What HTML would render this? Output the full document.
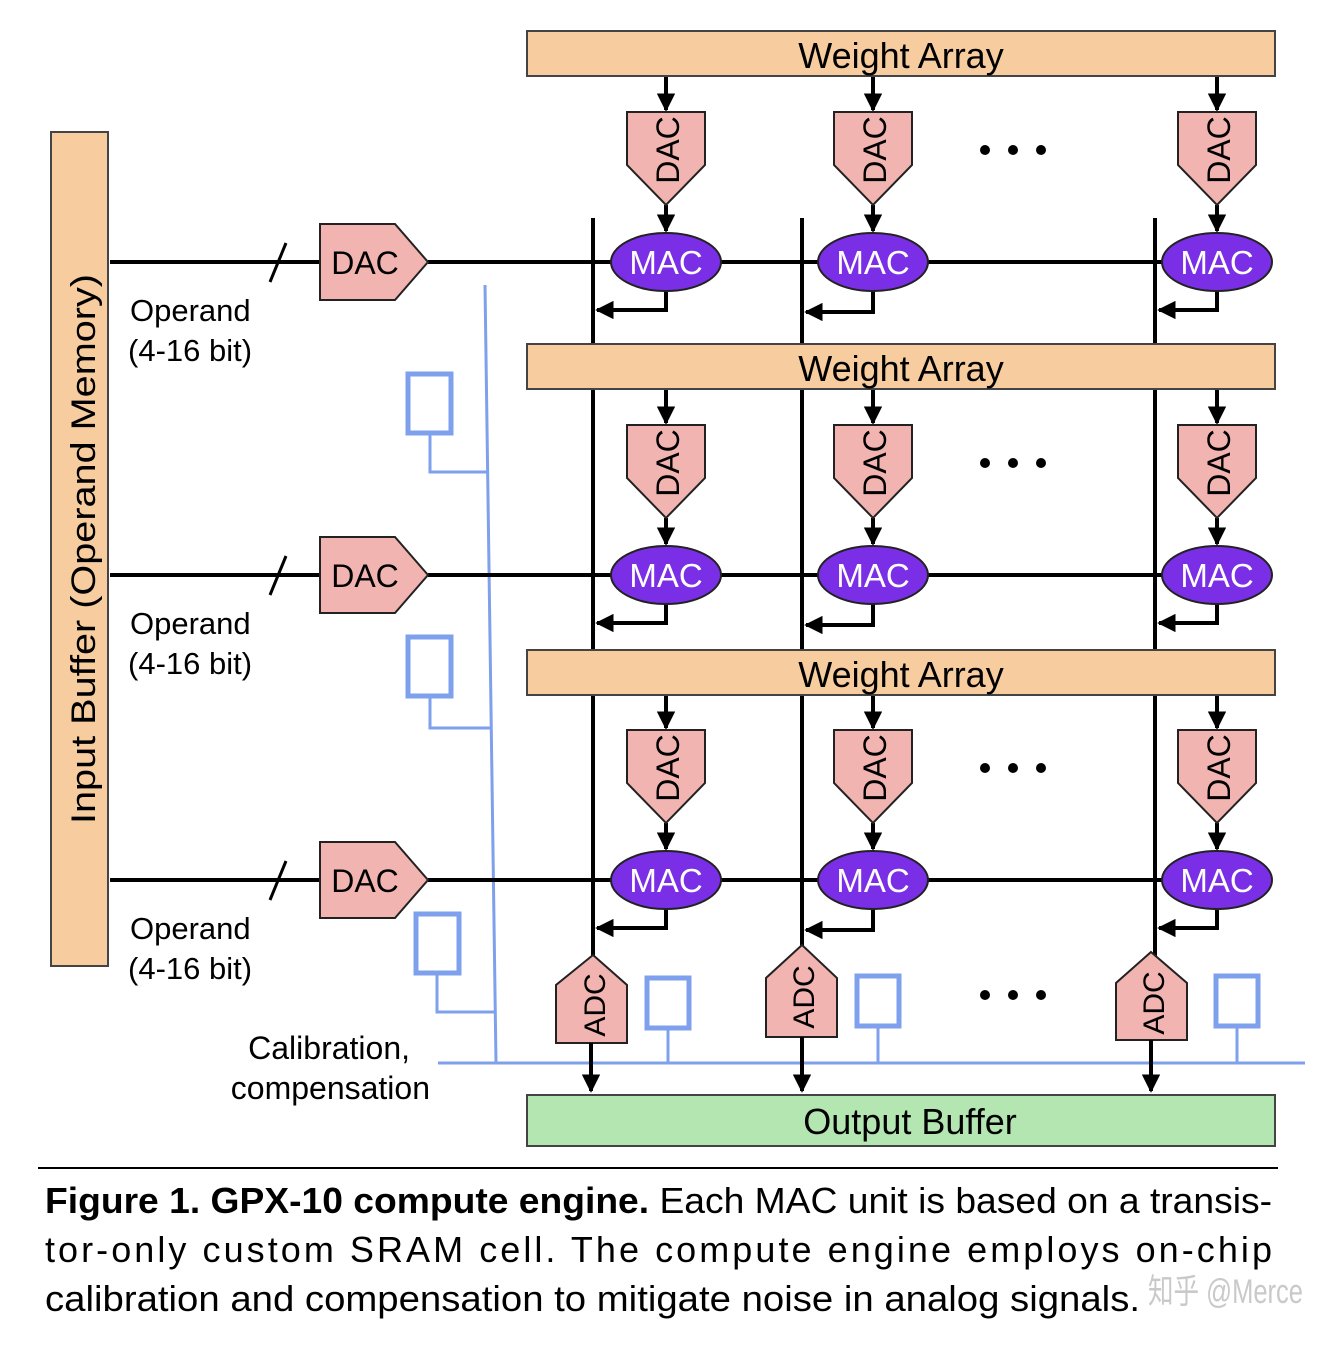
<!DOCTYPE html>
<html><head><meta charset="utf-8"><style>
html,body{margin:0;padding:0;background:#fff;}
svg{display:block;font-family:"Liberation Sans",sans-serif;}
</style></head><body>
<svg width="1338" height="1346" viewBox="0 0 1338 1346" xmlns="http://www.w3.org/2000/svg">
<defs>
<marker id="ah" viewBox="0 0 10 10" refX="9" refY="5" markerWidth="4.6" markerHeight="4.6" orient="auto" markerUnits="strokeWidth"><path d="M0,0 L10,5 L0,10 z" fill="#000"/></marker>
<g id="vdac"><polygon points="627,112 705,112 705,165 666,205 627,165" fill="#f2b4b0" stroke="#222" stroke-width="2"/><text transform="translate(679,150) rotate(-90)" font-size="32" text-anchor="middle">DAC</text></g>
<g id="hdac"><polygon points="320,224 395,224 428,262 395,300 320,300" fill="#f2b4b0" stroke="#222" stroke-width="2"/><text x="365" y="274" font-size="32" text-anchor="middle">DAC</text></g>
</defs>
<rect x="51" y="132" width="57" height="834" fill="#f7cc9e" stroke="#444" stroke-width="2"/>
<text transform="translate(95,549) rotate(-90)" font-size="34" text-anchor="middle" textLength="550" lengthAdjust="spacingAndGlyphs">Input Buffer  (Operand Memory)</text>

<g stroke="#7fa0ec" stroke-width="3" fill="none">
<line x1="485" y1="285" x2="496" y2="1063"/>
<line x1="438" y1="1063" x2="1305" y2="1063"/>
<rect x="408" y="374" width="43" height="59" stroke-width="5"/><polyline points="430,433 430,472 488,472"/>
<rect x="408" y="637" width="43" height="59" stroke-width="5"/><polyline points="430,696 430,728 492,728"/>
<rect x="416" y="914" width="43" height="59" stroke-width="5"/><polyline points="437,973 437,1012 495,1012"/>
<rect x="647" y="978" width="42" height="50" stroke-width="5"/><line x1="668" y1="1028" x2="668" y2="1063"/>
<rect x="857" y="976" width="42" height="50" stroke-width="5"/><line x1="878" y1="1026" x2="878" y2="1063"/>
<rect x="1216" y="976" width="42" height="50" stroke-width="5"/><line x1="1237" y1="1026" x2="1237" y2="1063"/>
</g>

<g stroke="#000" stroke-width="4">
<line x1="593" y1="218" x2="593" y2="960"/>
<line x1="802" y1="218" x2="802" y2="950"/>
<line x1="1155" y1="218" x2="1155" y2="960"/>
</g>

<g id="row1">
<g stroke="#000" stroke-width="4" fill="none">
<line x1="110" y1="262" x2="320" y2="262"/>
<line x1="428" y1="262" x2="1165" y2="262"/>
<line x1="270" y1="282" x2="286" y2="243" stroke-width="3"/>
<line x1="666" y1="76" x2="666" y2="110" marker-end="url(#ah)"/>
<line x1="873" y1="76" x2="873" y2="110" marker-end="url(#ah)"/>
<line x1="1217" y1="76" x2="1217" y2="110" marker-end="url(#ah)"/>
<line x1="666" y1="205" x2="666" y2="231" marker-end="url(#ah)"/>
<line x1="873" y1="205" x2="873" y2="231" marker-end="url(#ah)"/>
<line x1="1217" y1="205" x2="1217" y2="231" marker-end="url(#ah)"/>
<polyline points="666,290 666,310 597,310" marker-end="url(#ah)"/>
<polyline points="873,290 873,312 806,312" marker-end="url(#ah)"/>
<polyline points="1217,290 1217,310 1159,310" marker-end="url(#ah)"/>
</g>
<use href="#hdac"/>
<use href="#vdac"/>
<use href="#vdac" transform="translate(207,0)"/>
<use href="#vdac" transform="translate(551,0)"/>
<g fill="#7a2fe6" stroke="#222" stroke-width="2">
<ellipse cx="666" cy="262" rx="55" ry="29"/>
<ellipse cx="873" cy="262" rx="55" ry="29"/>
<ellipse cx="1217" cy="262" rx="55" ry="29"/>
</g>
<g fill="#fff" font-size="33" text-anchor="middle">
<text x="666" y="274">MAC</text><text x="873" y="274">MAC</text><text x="1217" y="274">MAC</text>
</g>
<g font-size="31"><text x="130" y="321">Operand</text><text x="128" y="361">(4-16 bit)</text></g>
<g fill="#000"><circle cx="985" cy="150" r="5"/><circle cx="1013" cy="150" r="5"/><circle cx="1041" cy="150" r="5"/></g>
</g>
<use href="#row1" transform="translate(0,313)"/>
<use href="#row1" transform="translate(0,618)"/>

<g fill="#f7cc9e" stroke="#444" stroke-width="2">
<rect x="527" y="31" width="748" height="45"/>
<rect x="527" y="344" width="748" height="45"/>
<rect x="527" y="650" width="748" height="45"/>
</g>
<g font-size="36" text-anchor="middle">
<text x="901" y="68">Weight Array</text>
<text x="901" y="381">Weight Array</text>
<text x="901" y="687">Weight Array</text>
</g>

<g fill="#f2b4b0" stroke="#222" stroke-width="2">
<polygon points="593,955 627,985 627,1043 556,1043 556,985"/>
<polygon points="802,945 837,978 837,1037 766,1037 766,978"/>
<polygon points="1151,952 1187,983 1187,1040 1116,1040 1116,983"/>
</g>
<g font-size="30" text-anchor="middle">
<text transform="translate(605,1005) rotate(-90)">ADC</text>
<text transform="translate(814,997) rotate(-90)">ADC</text>
<text transform="translate(1164,1003) rotate(-90)">ADC</text>
</g>
<g stroke="#000" stroke-width="4">
<line x1="591" y1="1043" x2="591" y2="1091" marker-end="url(#ah)"/>
<line x1="802" y1="1037" x2="802" y2="1091" marker-end="url(#ah)"/>
<line x1="1151" y1="1040" x2="1151" y2="1091" marker-end="url(#ah)"/>
</g>
<g fill="#000"><circle cx="985" cy="995" r="5"/><circle cx="1013" cy="995" r="5"/><circle cx="1041" cy="995" r="5"/></g>

<text x="410" y="1059" font-size="32" text-anchor="end">Calibration,</text>
<text x="430" y="1099" font-size="32" text-anchor="end">compensation</text>

<rect x="527" y="1095" width="748" height="51" fill="#b3e6b0" stroke="#444" stroke-width="2"/>
<text x="910" y="1134" font-size="36" text-anchor="middle">Output Buffer</text>

<line x1="38" y1="1168" x2="1278" y2="1168" stroke="#000" stroke-width="2"/>
<g font-size="36">
<text x="45" y="1213" textLength="1227" lengthAdjust="spacingAndGlyphs"><tspan font-weight="bold">Figure 1. GPX-10 compute engine.</tspan> Each MAC unit is based on a transis-</text>
<text x="45" y="1262" textLength="1227" lengthAdjust="spacing">tor-only custom SRAM cell. The compute engine employs on-chip</text>
<text x="45" y="1311" textLength="1095" lengthAdjust="spacingAndGlyphs">calibration and compensation to mitigate noise in analog signals.</text>
</g>
<text x="1148" y="1303" font-size="34" fill="#bbb" fill-opacity="0.8" textLength="155" lengthAdjust="spacingAndGlyphs" font-family="'Liberation Sans','Noto Sans CJK SC',sans-serif">知乎 @Merce</text>
</svg>
</body></html>
